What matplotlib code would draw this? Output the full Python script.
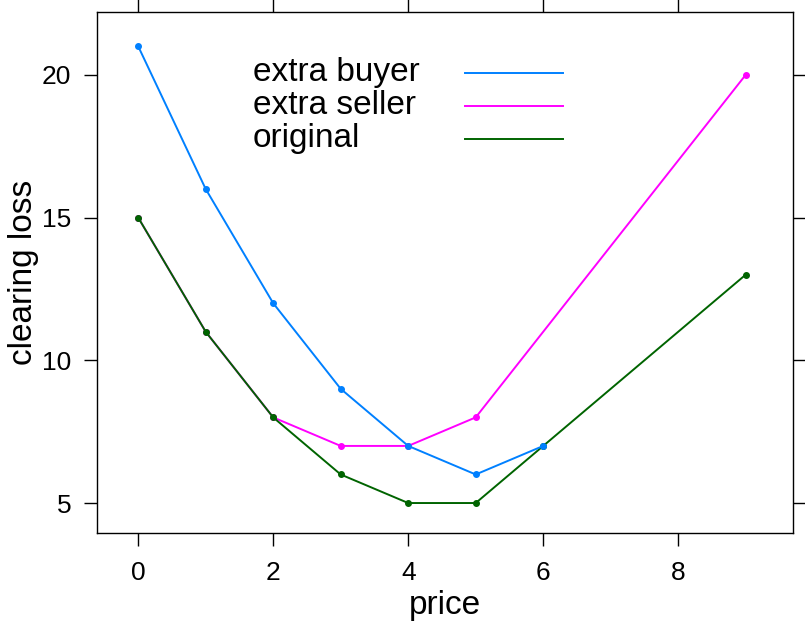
import matplotlib
matplotlib.use('Agg')
import matplotlib.pyplot as plt
from matplotlib.lines import Line2D

plt.rcParams['font.family'] = ['Liberation Sans', 'DejaVu Sans']

price_buyer = [0, 1, 2, 3, 4, 5, 6]
loss_buyer = [21, 16, 12, 9, 7, 6, 7]
price_seller = [0, 1, 2, 3, 4, 5, 9]
loss_seller = [15, 11, 8, 7, 7, 8, 20]
price_orig = [0, 1, 2, 3, 4, 5, 6, 9]
loss_orig = [15, 11, 8, 6, 5, 5, 7, 13]

series = ['extra buyer', 'extra seller', 'original']
colors = ['#0080ff', '#ff00ff', '#006400']

W, H = 805, 625
fig = plt.figure(figsize=(W/100, H/100), dpi=100)
ax = fig.add_axes([97/W, 1 - 533/H, (793-97)/W, (533-12)/H])

ax.plot(price_buyer, loss_buyer, color=colors[0], lw=1.4, marker='o', ms=4, zorder=3)
ax.plot(price_seller, loss_seller, color=colors[1], lw=1.4, marker='o', ms=4, zorder=2)
ax.plot(price_orig, loss_orig, color=colors[2], lw=1.4, marker='o', ms=4, zorder=2.5)

ax.set_xlim(-0.61, 9.7)
ax.set_ylim(3.95, 22.2)
ax.set_xticks([0, 2, 4, 6, 8])
ax.set_yticks([5, 10, 15, 20])
ax.tick_params(direction='out', length=9.5, width=1, labelsize=19,
               top=True, right=True)
ax.tick_params(axis='x', pad=11)
ax.tick_params(axis='y', pad=9)
for s in ax.spines.values():
    s.set_linewidth(1)

ax.set_xlabel('price', fontsize=24, labelpad=3)
ax.set_ylabel('clearing loss', fontsize=24, labelpad=2)

# legend drawn by hand: text on the left, line key on the right
for i, (name, c) in enumerate(zip(series, colors)):
    yc = 1 - (73 + 33*i)/H
    fig.text(253/W, yc, name, fontsize=24, ha='left', va='center')
    fig.add_artist(Line2D([465/W, 563/W], [yc, yc], color=c, lw=1.4,
                          transform=fig.transFigure))

fig.savefig('out.png', dpi=100)
